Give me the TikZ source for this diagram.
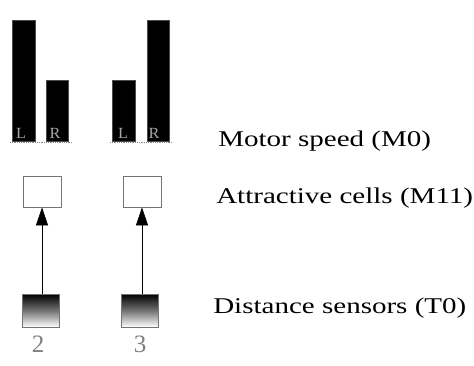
\documentclass[tikz,border=0pt]{standalone}
\usepackage{fontspec}
\setmainfont{Liberation Serif}
\usetikzlibrary{arrows.meta}
\begin{document}
\begin{tikzpicture}[x=1pt,y=-1pt,
  bar/.style={fill=black,draw=black!70,line width=0.4pt,inner sep=0pt,anchor=south west,minimum width=22.5pt},
  barlbl/.style={text=black!35,font=\fontsize{15.5}{15.5}\selectfont,inner sep=0pt,anchor=base,xscale=1.05},
  cell/.style={draw=black!55,line width=0.8pt,fill=white,inner sep=0pt,minimum width=38pt,minimum height=31pt},
  sensor/.style={draw=black!55,line width=0.8pt,top color=black,bottom color=white,middle color=black!55,inner sep=0pt,minimum width=37pt,minimum height=33pt},
  digit/.style={text=black!50,font=\fontsize{25}{25}\selectfont,inner sep=0pt},
  caption/.style={font=\fontsize{22.5}{22.5}\selectfont,inner sep=0pt,anchor=base west,xscale=1.29},
  link/.style={line width=0.7pt,-{Triangle[length=18pt,width=12pt]}},
  base/.style={draw=black!45,densely dotted,line width=0.8pt}]
\useasboundingbox (0,0) rectangle (474,365);
% motor bars
\node[bar,minimum height=121pt] (b1) at (12,141) {};
\node[bar,minimum height=61pt] (b2) at (45.5,141) {};
\node[bar,minimum height=61pt] (b3) at (112,141) {};
\node[bar,minimum height=121pt] (b4) at (146.5,141) {};
\coordinate (l1a) at (10,142); \coordinate (l1b) at (72,142);
\coordinate (l2a) at (110,142); \coordinate (l2b) at (173,142);
\draw[base] (l1a) -- (l1b);
\draw[base] (l2a) -- (l2b);
\node[barlbl] (t1) at (21,138) {L};
\node[barlbl] (t2) at (55,138) {R};
\node[barlbl] (t3) at (123,138) {L};
\node[barlbl] (t4) at (154,138) {R};
% attractive cells
\node[cell] (c1) at (42,191.5) {};
\node[cell] (c2) at (142,191.5) {};
% sensors
\node[sensor] (s1) at (40.5,310.5) {};
\node[sensor] (s2) at (139.5,310.5) {};
\draw[link] (s1.north -| c1.south) -- (c1.south);
\draw[link] (s2.north -| c2.south) -- (c2.south);
\node[digit] (d1) at (38,344) {2};
\node[digit] (d2) at (140,344) {3};
% captions
\node[caption] (m0) at (218,146) {Motor speed (M0)};
\node[caption] (m11) at (216,203) {Attractive cells (M11)};
\node[caption] (t0) at (213,313) {Distance sensors (T0)};
\end{tikzpicture}
\end{document}
